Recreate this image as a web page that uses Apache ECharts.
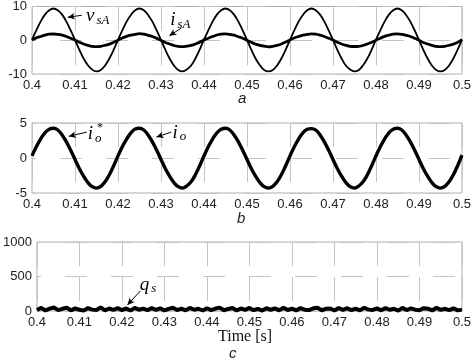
<!DOCTYPE html>
<html>
<head>
<meta charset="utf-8">
<script src="https://cdn.jsdelivr.net/npm/echarts@6/dist/echarts.min.js"></script>
<style>
html,body{margin:0;padding:0;background:#fff;}
#chart{width:474px;height:364px;}
</style>
</head>
<body>
<div id="chart"></div>
<script>
// Sample times [s]
const time = [
0.400,0.401,0.402,0.403,0.404,0.405,0.406,0.407,0.408,0.409,
0.410,0.411,0.412,0.413,0.414,0.415,0.416,0.417,0.418,0.419,
0.420,0.421,0.422,0.423,0.424,0.425,0.426,0.427,0.428,0.429,
0.430,0.431,0.432,0.433,0.434,0.435,0.436,0.437,0.438,0.439,
0.440,0.441,0.442,0.443,0.444,0.445,0.446,0.447,0.448,0.449,
0.450,0.451,0.452,0.453,0.454,0.455,0.456,0.457,0.458,0.459,
0.460,0.461,0.462,0.463,0.464,0.465,0.466,0.467,0.468,0.469,
0.470,0.471,0.472,0.473,0.474,0.475,0.476,0.477,0.478,0.479,
0.480,0.481,0.482,0.483,0.484,0.485,0.486,0.487,0.488,0.489,
0.490,0.491,0.492,0.493,0.494,0.495,0.496,0.497,0.498,0.499,
0.500];

// Panel a: source voltage v_sA
const vsA = [
0.2,2.9,5.5,7.6,8.9,9.4,8.9,7.6,5.5,2.9,0.1,-2.8,-5.4,-7.4,-8.7,-9.2,-8.8,-7.5,-5.4,-2.8,
0.1,2.9,5.5,7.5,8.9,9.4,8.9,7.5,5.5,2.9,0.1,-2.8,-5.4,-7.5,-8.8,-9.2,-8.7,-7.5,-5.4,-2.8,
0.2,2.9,5.5,7.6,8.9,9.4,8.9,7.6,5.5,2.9,0.1,-2.8,-5.4,-7.4,-8.8,-9.2,-8.8,-7.5,-5.4,-2.8,
0.1,2.9,5.5,7.5,8.9,9.4,8.9,7.6,5.5,2.9,0.1,-2.8,-5.4,-7.5,-8.7,-9.2,-8.8,-7.4,-5.4,-2.8,
0.2,2.9,5.5,7.6,8.9,9.4,8.9,7.5,5.5,2.9,0.1,-2.8,-5.4,-7.5,-8.8,-9.2,-8.8,-7.5,-5.4,-2.8,
0.2];
// Panel a: source current i_sA
const isA = [
0.1,0.7,1.1,1.5,1.8,1.85,1.75,1.5,1.1,0.6,0.05,-0.6,-1.1,-1.5,-1.8,-1.9,-1.8,-1.5,-1.15,-0.6,
0.0,0.65,1.15,1.5,1.75,1.95,1.8,1.45,1.1,0.55,0.0,-0.65,-1.1,-1.55,-1.8,-1.9,-1.75,-1.55,-1.1,-0.6,
0.05,0.6,1.1,1.55,1.8,1.9,1.75,1.5,1.05,0.6,0.0,-0.6,-1.15,-1.5,-1.75,-1.95,-1.8,-1.5,-1.1,-0.55,
0.1,0.65,1.1,1.5,1.75,1.9,1.8,1.5,1.1,0.6,0.05,-0.6,-1.1,-1.5,-1.8,-1.85,-1.8,-1.55,-1.1,-0.6,
0.0,0.6,1.15,1.5,1.8,1.9,1.75,1.45,1.1,0.6,0.0,-0.65,-1.1,-1.5,-1.8,-1.9,-1.8,-1.5,-1.15,-0.6,
0.2];
// Panel b: output current i_o (tracks reference i_o*)
const io = [
0.3,1.6,2.7,3.6,4.1,4.25,4.0,3.3,2.3,1.1,-0.2,-1.5,-2.6,-3.5,-4.1,-4.3,-4.05,-3.4,-2.4,-1.1,
0.3,1.6,2.7,3.6,4.15,4.25,4.0,3.3,2.3,1.1,-0.2,-1.5,-2.6,-3.5,-4.1,-4.3,-4.0,-3.4,-2.4,-1.1,
0.3,1.6,2.7,3.6,4.1,4.25,4.0,3.3,2.3,1.1,-0.2,-1.5,-2.6,-3.5,-4.1,-4.3,-4.05,-3.4,-2.4,-1.1,
0.3,1.6,2.7,3.6,4.1,4.2,4.0,3.3,2.3,1.1,-0.2,-1.5,-2.6,-3.5,-4.1,-4.3,-4.0,-3.4,-2.4,-1.1,
0.3,1.6,2.7,3.6,4.1,4.25,4.0,3.3,2.3,1.1,-0.2,-1.5,-2.6,-3.5,-4.1,-4.3,-4.05,-3.4,-2.4,-1.1,
0.4];
// Panel c: q_s
const qs = [
15,45,8,35,50,12,32,48,10,38,18,5,43,20,14,52,9,36,17,41,
12,37,6,46,19,34,11,42,16,39,8,31,47,13,35,10,44,18,33,7,
40,14,36,49,11,30,43,9,37,16,45,12,32,6,41,18,38,10,46,15,
34,8,43,19,13,39,48,11,31,36,7,44,17,40,12,35,9,47,20,15,
38,10,42,18,33,6,45,14,37,19,11,41,34,8,46,16,32,13,39,9,
20];

function pairs(ys){ return time.map((x,i)=>[x, ys[i]]); }

const serif = 'Liberation Serif';
const sans = 'Liberation Sans';
const richMath = {
  v: {fontFamily: serif, fontStyle: 'italic', fontSize: 19, color: '#000', verticalAlign: 'middle'},
  s: {fontFamily: serif, fontStyle: 'italic', fontSize: 13, color: '#000', padding: [8,0,0,2], verticalAlign: 'middle'},
  p: {fontFamily: serif, fontSize: 12, color: '#000', verticalAlign: 'middle'}
};

function arrow(from, to){
  return {
    silent: true, animation: false,
    symbol: ['none','arrow'], symbolSize: [5,7],
    label: {show: false},
    lineStyle: {color: '#000', width: 1, type: 'solid'},
    data: [[{coord: from}, {coord: to}]]
  };
}
function label(list){
  return {
    silent: true, animation: false,
    symbol: 'circle', symbolSize: 0,
    itemStyle: {color: 'transparent'},
    data: list.map(o => ({coord: o.at, label: {show: true, position: 'inside', formatter: o.text, rich: richMath}}))
  };
}

const grids = [
  {left: 32, right: 10, top: 5, height: 69},
  {left: 32, right: 10, top: 123, height: 70},
  {left: 32, right: 10, top: 242, height: 69}
];
const yRanges = [[-10,10,10],[-5,5,5],[0,1000,500]];

const gridColor = '#c4c4c4';
const option = {
  animation: false,
  backgroundColor: '#fff',
  grid: grids.map(g => Object.assign({show: true, borderColor: '#b0b0b0', borderWidth: 1, backgroundColor: 'transparent'}, g)),
  xAxis: grids.map((g, i) => ({
    type: 'value', gridIndex: i, min: 0.4, max: 0.5, interval: 0.01,
    axisLine: {show: false}, axisTick: {show: false},
    axisLabel: {color: '#222', fontFamily: sans, fontSize: 13, margin: 5,
      formatter: v => String(Math.round(v*100)/100)},
    splitLine: {show: true, lineStyle: {color: gridColor, width: 1, type: [24, 11], dashOffset: 0}}
  })),
  yAxis: yRanges.map((r, i) => ({
    type: 'value', gridIndex: i, min: r[0], max: r[1], interval: r[2],
    axisLine: {show: false}, axisTick: {show: false},
    axisLabel: {color: '#222', fontFamily: sans, fontSize: 13, margin: 5,
      formatter: v => String(v)},
    splitLine: {show: true, lineStyle: {color: gridColor, width: 1, type: [22, 24], dashOffset: 18}}
  })),
  series: [
    {type: 'line', xAxisIndex: 0, yAxisIndex: 0, data: pairs(vsA), showSymbol: false, smooth: 0.4,
      lineStyle: {color: '#000', width: 1.8},
      markLine: arrow([0.41157, 7.4], [0.40833, 6.8]),
      markPoint: label([{at: [0.41528, 7.1], text: '{v|v}{s|sA}'}])},
    {type: 'line', xAxisIndex: 0, yAxisIndex: 0, data: pairs(isA), showSymbol: false, smooth: 0.3,
      lineStyle: {color: '#000', width: 2.8},
      markLine: arrow([0.43472, 3.6], [0.43194, 1.3]),
      markPoint: label([{at: [0.43449, 5.9], text: '{v|i}{s|sA}'}])},
    {type: 'line', xAxisIndex: 1, yAxisIndex: 1, data: pairs(io), showSymbol: false, smooth: 0.4,
      lineStyle: {color: '#000', width: 3.4},
      markLine: {silent: true, animation: false, symbol: ['none','arrow'], symbolSize: [5,7],
        label: {show: false}, lineStyle: {color: '#000', width: 1, type: 'solid'},
        data: [[{coord: [0.41273, 3.7]}, {coord: [0.40856, 3.1]}], [{coord: [0.43241, 3.7]}, {coord: [0.42894, 3.0]}]]},
      markPoint: label([
        {at: [0.41458, 3.4], text: '{v|i}{s|o}'},
        {at: [0.41580, 4.35], text: '{p|*}'},
        {at: [0.43426, 3.6], text: '{v|i}{s|o}'}
      ])},
    {type: 'line', xAxisIndex: 2, yAxisIndex: 2, data: pairs(qs), showSymbol: false,
      lineStyle: {color: '#000', width: 4},
      markLine: arrow([0.42431, 290], [0.42130, 87]),
      markPoint: label([{at: [0.42616, 377], text: '{v|q}{s|s}'}])}
  ],
  graphic: [
    {type: 'text', left: 238, top: 91, style: {text: 'a', font: 'italic 15px Liberation Sans', fill: '#222'}},
    {type: 'text', left: 237, top: 211, style: {text: 'b', font: 'italic 15px Liberation Sans', fill: '#222'}},
    {type: 'text', left: 229, top: 346, style: {text: 'c', font: 'italic 15px Liberation Sans', fill: '#222'}},
    {type: 'text', left: 218, top: 329, style: {text: 'Time [s]', font: '16px Liberation Serif', fill: '#111'}}
  ]
};

const chart = echarts.init(document.getElementById('chart'), null, {renderer: 'canvas'});
chart.setOption(option);
</script>
</body>
</html>
